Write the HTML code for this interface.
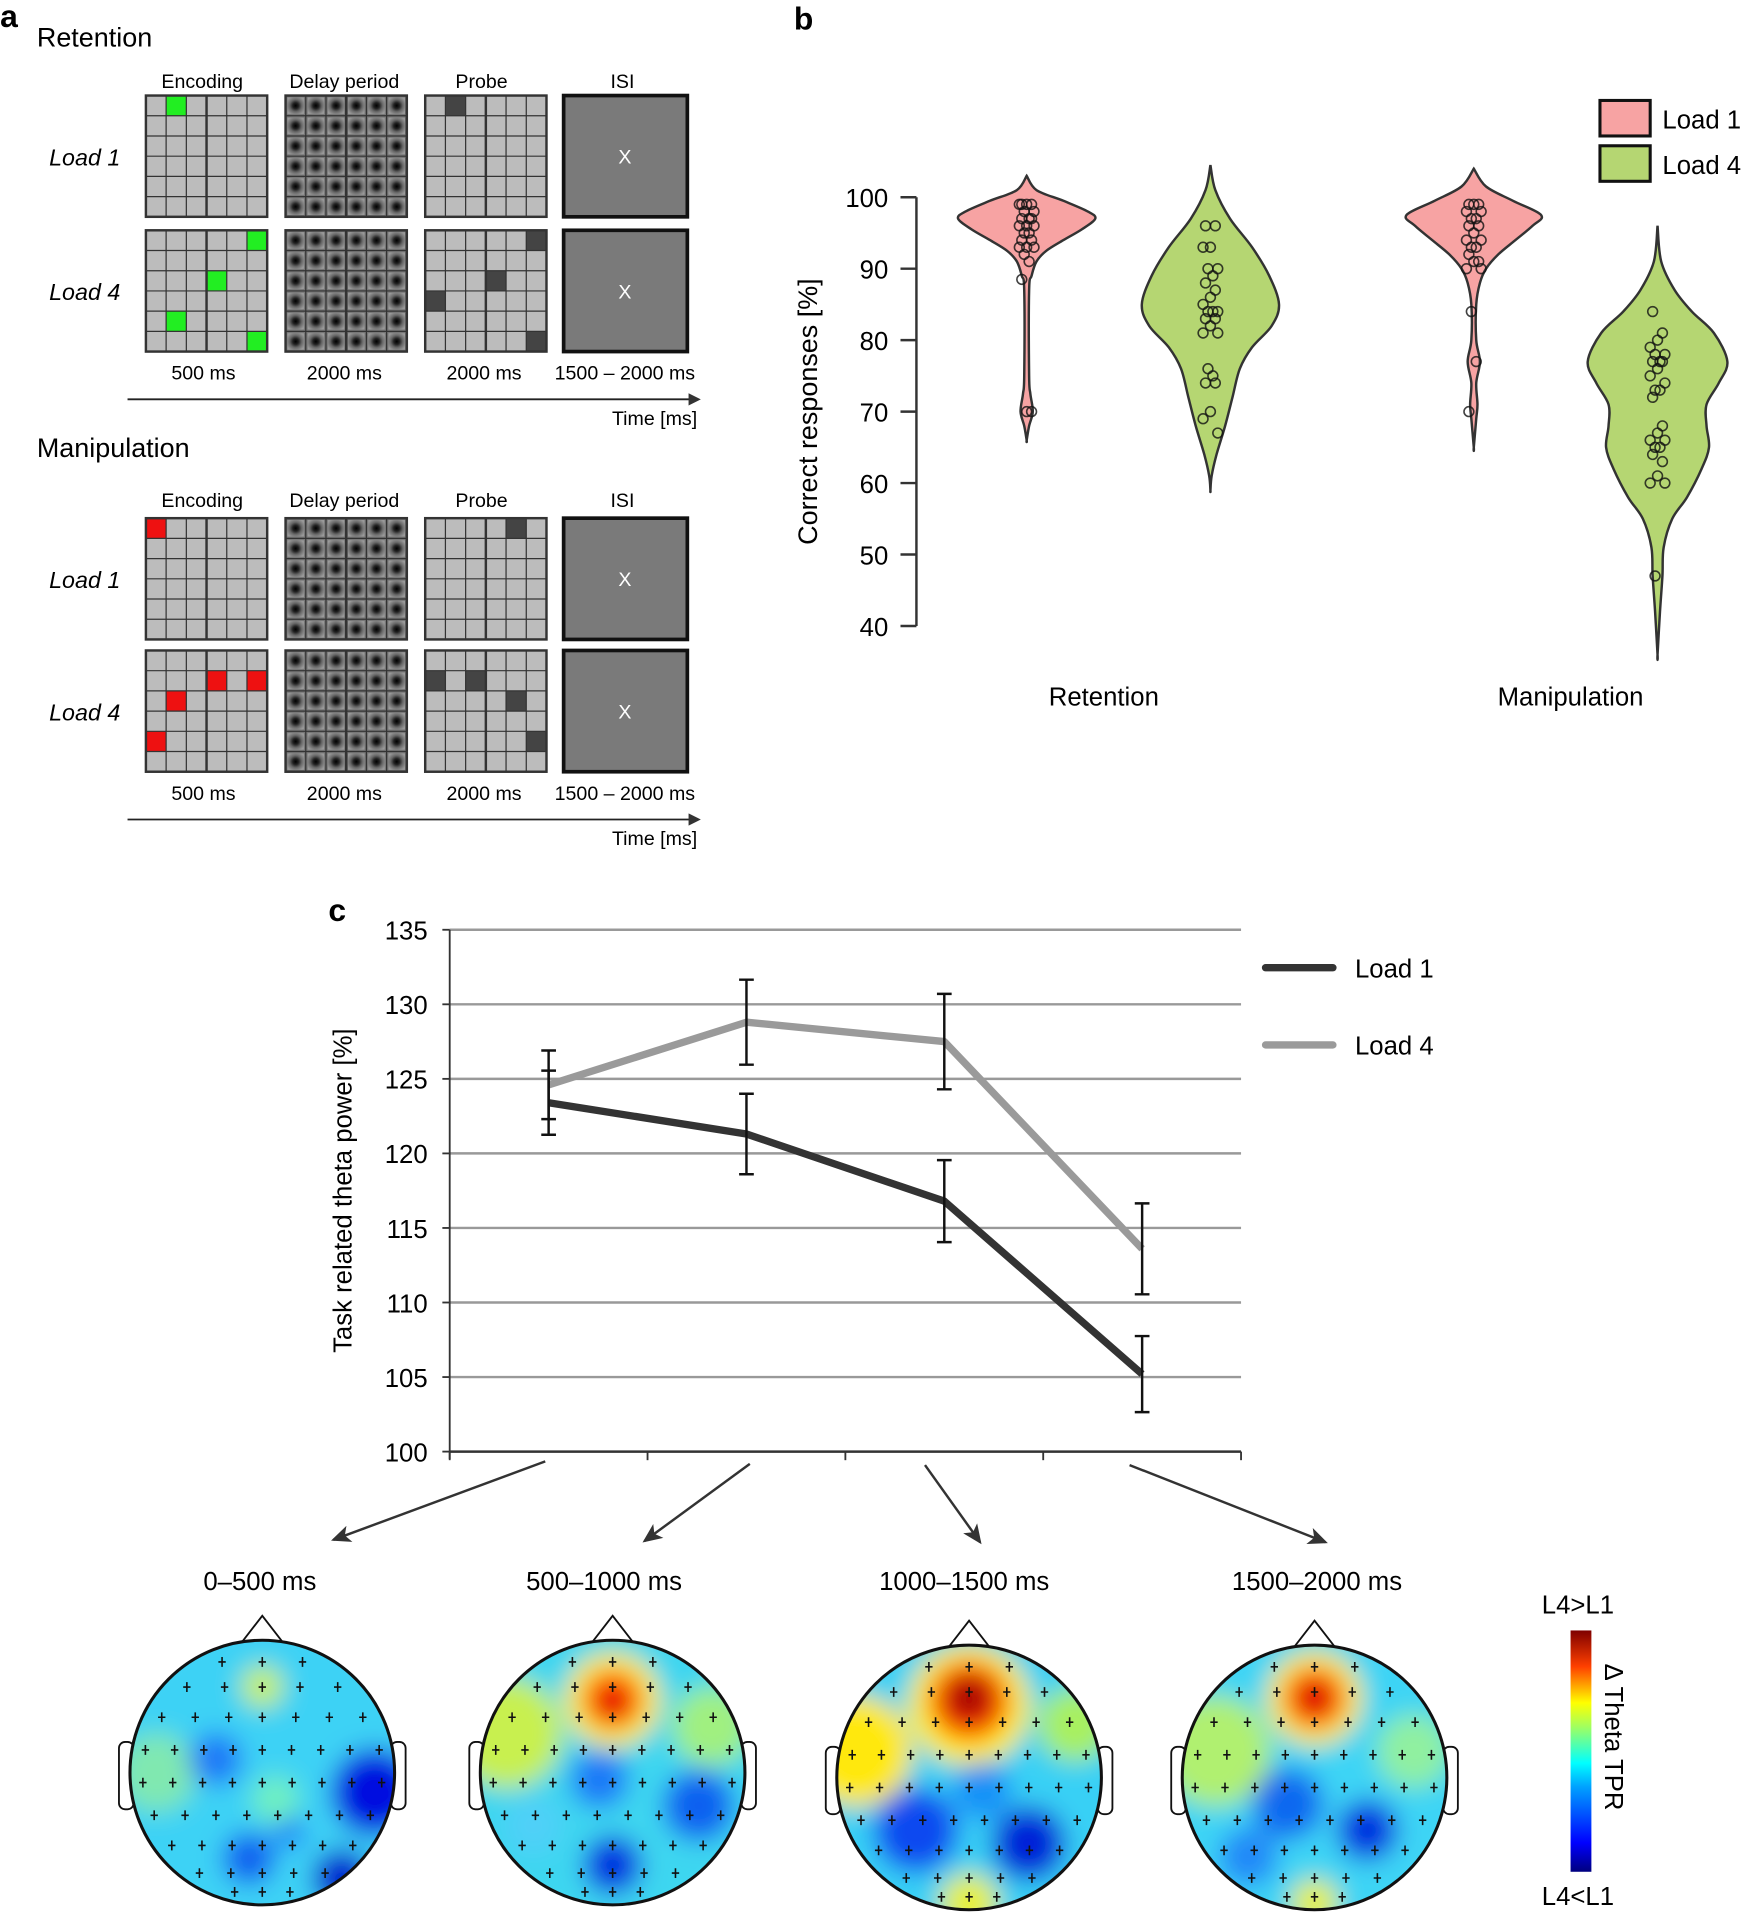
<!DOCTYPE html>
<html><head><meta charset="utf-8"><style>
html,body{margin:0;padding:0;background:#fff;}
svg{display:block;font-family:"Liberation Sans",Arial,sans-serif;}
</style></head><body>
<svg id="fig" width="1752" height="1922" viewBox="0 0 1430 1569" xmlns="http://www.w3.org/2000/svg">
<defs>
<radialGradient id="delayCell" cx="50%" cy="50%" r="60%">
<stop offset="0" stop-color="#000"/><stop offset="0.3" stop-color="#222"/><stop offset="0.6" stop-color="#666"/><stop offset="1" stop-color="#9a9a9a"/>
</radialGradient>
<linearGradient id="jet" x1="0" y1="1" x2="0" y2="0">
<stop offset="0" stop-color="#00007f"/><stop offset="0.12" stop-color="#0000ff"/><stop offset="0.35" stop-color="#00a0ff"/><stop offset="0.45" stop-color="#00ffff"/><stop offset="0.6" stop-color="#a0ff60"/><stop offset="0.7" stop-color="#ffff00"/><stop offset="0.85" stop-color="#ff4000"/><stop offset="1" stop-color="#7f0000"/>
</linearGradient>
<filter id="blur" x="-50%" y="-50%" width="200%" height="200%"><feGaussianBlur stdDeviation="10"/></filter>
<marker id="arr" markerWidth="10" markerHeight="10" refX="8" refY="5" orient="auto" markerUnits="userSpaceOnUse"><path d="M0,0 L10,5 L0,10 z" fill="#333"/></marker>
<marker id="arr2" markerWidth="16" markerHeight="14" refX="14" refY="7" orient="auto" markerUnits="userSpaceOnUse"><path d="M0,0 L16,7 L0,14 L4,7 z" fill="#333"/></marker>
</defs>
<g id="pa"></g>
<g id="pb"></g>
<g id="pc"></g>
<g id="pd"></g>
</svg>
<script>
// ---------- Panel b data ----------
const violinCategories = ["Retention","Manipulation"];
const violinLegend = ["Load 1","Load 4"];
const bTicks = [40,50,60,70,80,90,100];
// violin density profiles: [value, half-width]
const profRetL1 = [[103,0],[101,8],[99.5,30],[98,50],[97,56],[95.5,45],[94,30],[92.5,16],[91,8],[89,4],[87,2],[75,2],[72.5,3],[70,5],[68,2],[66,0]];
const profRetL4 = [[104.5,0],[101,4],[97,16],[93,34],[89,48],[85,56],[82,50],[79,34],[76,24],[72,18],[68,12],[64,5],[61,1],[59,0]];
const profManL1 = [[104,0],[101.5,10],[99.5,32],[97.5,55],[96,48],[94,34],[92,20],[90,10],[88,5],[85,2],[80,2],[77,5],[74,2],[71,3],[69,2],[65,0]];
const profManL4 = [[96,0],[91,3],[87,14],[84,28],[81,46],[77,57],[74,50],[71,40],[68,40],[65,42],[62,36],[58,24],[55,12],[51,5],[47,4],[42,2],[36,0]];
const ptsRetL1 = [99,99,99,99,98,98,97,97,97,96,96,96,95,95,94,94,93,93,93,92,91,88.5,70,70];
const ptsRetL4 = [96,96,93,93,90,90,89,88,87,86,85,84,84,84,83,83,82,81,81,76,75,74,74,70,69,67];
const ptsManL1 = [99,99,99,98,98,97,97,96,96,95,94,94,93,93,92,91,91,90,90,84,77,70];
const ptsManL4 = [84,81,80,79,78,78,77,77,77,76,75,74,73,73,72,68,67,66,66,65,65,64,63,61,60,60,47];
// ---------- Panel c data ----------
const cTicks = [100,105,110,115,120,125,130,135];
const cWindows = ["0–500 ms","500–1000 ms","1000–1500 ms","1500–2000 ms"];
const load1Vals = [123.4,121.3,116.8,105.2];
const load1Err = [2.15,2.7,2.75,2.55];
const load4Vals = [124.6,128.8,127.5,113.6];
const load4Err = [2.3,2.85,3.2,3.05];

const NS="http://www.w3.org/2000/svg";
function el(tag,attrs,parent,text){const e=document.createElementNS(NS,tag);for(const k in attrs)e.setAttribute(k,attrs[k]);if(text!==undefined)e.textContent=text;parent.appendChild(e);return e;}

// ================= Panel a =================
const pa=document.getElementById('pa');
let t;
t=el('text',{x:0,y:22,'font-size':26,'font-weight':'bold'},pa,'a');


function grid(x,y,type,cells,color){
  const g=el('g',{},pa);
  
  
  const s=99/6;
  el('rect',{x:x,y:y,width:99,height:99,fill:type==='delay'?'#777':'#bcbcbc'},g);
  for(let r=0;r<6;r++)for(let c=0;c<6;c++){
    const cx=x+c*s, cy=y+r*s;
    if(type==='delay'){el('rect',{x:cx+1.5,y:cy+1.5,width:s-3,height:s-3,fill:'url(#delayCell)'},g);}
    else{
      const hit=cells.some(p=>p[0]===c&&p[1]===r);
      if(hit)el('rect',{x:cx,y:cy,width:s,height:s,fill:color},g);
    }
  }
  for(let i=1;i<6;i++){
    el('line',{x1:x+i*s,y1:y,x2:x+i*s,y2:y+99,stroke:'#333','stroke-width':i===3?2:1},g);
    el('line',{x1:x,y1:y+i*s,x2:x+99,y2:y+i*s,stroke:'#333','stroke-width':1},g);
  }
  el('rect',{x:x,y:y,width:99,height:99,fill:'none',stroke:'#333','stroke-width':2},g);
}
function isi(x,y,h){
  const g=el('g',{},pa);
  
  
  el('rect',{x:x,y:y,width:101,height:h,fill:'#7a7a7a',stroke:'#111','stroke-width':3},g);
  el('text',{x:x+50,y:y+h/2+6,'font-size':16,fill:'#fff','text-anchor':'middle'},g,'X');
}
function block(title,y0,hy,rows,color){
  t=el('text',{x:30,y:y0,'font-size':22},pa,title);
  
  
  [['Encoding',165],['Delay period',281],['Probe',393],['ISI',508]].forEach(h=>{
    t=el('text',{x:h[1],y:hy,'font-size':16,'text-anchor':'middle'},pa,h[0]);
    
    
  });
  rows.forEach((row,i)=>{
    const y=row.y;
    t=el('text',{x:40,y:y+57,'font-size':19,'font-style':'italic'},pa,row.label);
    
    
    grid(119,y,'enc',row.enc,color);
    grid(233,y,'delay',[]);
    grid(347,y,'probe',row.probe,'#444');
    isi(460,y,99);
  });
  const ly=rows[1].y+122;
  [['500 ms',166],['2000 ms',281],['2000 ms',395],['1500 – 2000 ms',510]].forEach(d=>{
    t=el('text',{x:d[1],y:ly,'font-size':16,'text-anchor':'middle'},pa,d[0]);
    
    
  });
  const ay=ly+16;
  t=el('line',{x1:104,y1:ay,x2:570,y2:ay,stroke:'#222','stroke-width':1.5,'marker-end':'url(#arr)'},pa);
  
  
  t=el('text',{x:569,y:ay+21,'font-size':16,'text-anchor':'end'},pa,'Time [ms]');
  
  
}
block('Retention',38,72,[
  {y:78,label:'Load 1',enc:[[1,0]],probe:[[1,0]]},
  {y:188,label:'Load 4',enc:[[5,0],[3,2],[1,4],[5,5]],probe:[[5,0],[3,2],[0,3],[5,5]]}
],'#22ee22');
block('Manipulation',373,414,[
  {y:423,label:'Load 1',enc:[[0,0]],probe:[[4,0]]},
  {y:531,label:'Load 4',enc:[[3,1],[5,1],[1,2],[0,4]],probe:[[0,1],[2,1],[4,2],[5,4]]}
],'#ee1111');

// ================= Panel b =================
const pb=document.getElementById('pb');
t=el('text',{x:648,y:24,'font-size':26,'font-weight':'bold'},pb,'b');


const bY=v=>161+(100-v)*(511-161)/60;
const bAxisX=748;
t=el('line',{x1:bAxisX,y1:bY(100),x2:bAxisX,y2:bY(40),stroke:'#333','stroke-width':2},pb);


bTicks.forEach(v=>{
  t=el('line',{x1:735,y1:bY(v),x2:bAxisX,y2:bY(v),stroke:'#333','stroke-width':2},pb);
  
  
  t=el('text',{x:725,y:bY(v)+8,'font-size':21,'text-anchor':'end'},pb,String(v));
  
  
});
t=el('text',{x:0,y:0,'font-size':22,'text-anchor':'middle',transform:'translate(667,336) rotate(-90)'},pb,'Correct responses [%]');


const catX=[901,1282];
violinCategories.forEach((c,i)=>{
  t=el('text',{x:catX[i],y:576,'font-size':21,'text-anchor':'middle'},pb,c);
  
  
});
function violin(cx,prof,pts,fill,name){
  const g=el('g',{},pb);
  
  
  const right=prof.map(p=>[cx+p[1],bY(p[0])]);
  const left=prof.slice().reverse().map(p=>[cx-p[1],bY(p[0])]);
  const all=right.concat(left);
  let d='M'+all[0][0]+','+all[0][1];
  for(let i=0;i<all.length-1;i++){
    const p0=all[Math.max(0,i-1)],p1=all[i],p2=all[i+1],p3=all[Math.min(all.length-1,i+2)];
    const c1=[p1[0]+(p2[0]-p0[0])/6,p1[1]+(p2[1]-p0[1])/6];
    const c2=[p2[0]-(p3[0]-p1[0])/6,p2[1]-(p3[1]-p1[1])/6];
    d+=' C'+c1[0]+','+c1[1]+' '+c2[0]+','+c2[1]+' '+p2[0]+','+p2[1];
  }
  el('path',{d:d+'Z',fill:fill,stroke:'#333','stroke-width':2},g);
  const jit=[-4,4,0,-6,6,-2,2];
  pts.forEach((v,i)=>{
    const c=el('circle',{cx:cx+jit[i%jit.length],cy:bY(v),r:4,fill:'none',stroke:'#111','stroke-width':1.3,'stroke-opacity':0.8},g);
    
    
  });
}
violin(838,profRetL1,ptsRetL1,'#f7a3a3','violin-retention-load1');
violin(988,profRetL4,ptsRetL4,'#b5d672','violin-retention-load4');
violin(1203,profManL1,ptsManL1,'#f7a3a3','violin-manipulation-load1');
violin(1353,profManL4,ptsManL4,'#b5d672','violin-manipulation-load4');
[['#f7a3a3',82],['#b5d672',119]].forEach((L,i)=>{
  const g=el('g',{},pb);
  
  
  el('rect',{x:1306,y:L[1],width:41,height:29,fill:L[0],stroke:'#111','stroke-width':2.5},g);
  el('text',{x:1357,y:L[1]+23,'font-size':21},g,violinLegend[i]);
});

// ================= Panel c =================
const pc=document.getElementById('pc');
t=el('text',{x:268,y:752,'font-size':26,'font-weight':'bold'},pc,'c');


const cY=v=>1185-(v-100)*(1185-759)/35;
const cX=i=>367+(i+0.5)*(1013-367)/4;
cTicks.forEach(v=>{
  if(v>100){t=el('line',{x1:367,y1:cY(v),x2:1013,y2:cY(v),stroke:'#999','stroke-width':2},pc);
  
  }
  t=el('line',{x1:361,y1:cY(v),x2:367,y2:cY(v),stroke:'#333','stroke-width':1.5},pc);
  
  
  t=el('text',{x:349,y:cY(v)+8,'font-size':21,'text-anchor':'end'},pc,String(v));
  
  
});
t=el('line',{x1:367,y1:759,x2:367,y2:1191,stroke:'#333','stroke-width':1.5},pc);


t=el('line',{x1:367,y1:cY(100),x2:1013,y2:cY(100),stroke:'#333','stroke-width':2},pc);


for(let i=0;i<=4;i++){
  t=el('line',{x1:367+i*(1013-367)/4,y1:1185,x2:367+i*(1013-367)/4,y2:1192,stroke:'#333','stroke-width':1.5},pc);
  
  
}
t=el('text',{x:0,y:0,'font-size':21,'text-anchor':'middle',transform:'translate(287,972) rotate(-90)'},pc,'Task related theta power [%]');


function series(vals,errs,color,name){
  const g=el('g',{},pc);
  
  
  el('polyline',{points:vals.map((v,i)=>cX(i)+','+cY(v)).join(' '),fill:'none',stroke:color,'stroke-width':6,'stroke-linejoin':'round'},g);
  vals.forEach((v,i)=>{
    const e=el('path',{d:'M'+(cX(i)-6)+','+cY(v+errs[i])+' h12 M'+cX(i)+','+cY(v+errs[i])+' V'+cY(v-errs[i])+' M'+(cX(i)-6)+','+cY(v-errs[i])+' h12',stroke:'#111','stroke-width':2,fill:'none'},g);
    
    
  });
}
series(load4Vals,load4Err,'#9a9a9a','line-load4');
series(load1Vals,load1Err,'#333333','line-load1');
[['#333',790,'Load 1'],['#9a9a9a',853,'Load 4']].forEach(L=>{
  const g=el('g',{},pc);
  
  
  el('line',{x1:1033,y1:L[1],x2:1088,y2:L[1],stroke:L[0],'stroke-width':6,'stroke-linecap':'round'},g);
  el('text',{x:1106,y:L[1]+8,'font-size':21},g,L[2]);
});
[[445,1193,272,1257],[612,1195,526,1258],[755,1196,800,1259],[922,1196,1082,1259]].forEach(a=>{
  t=el('line',{x1:a[0],y1:a[1],x2:a[2],y2:a[3],stroke:'#333','stroke-width':2,'marker-end':'url(#arr2)'},pc);
  
  
});

// ================= Topomaps =================
const pd=document.getElementById('pd');
const heads=[[214,1447],[500,1447],[791,1451],[1073,1451]];
const titleX=[212,493,787,1075];
const blobs=[
 [[0,0,1.2,'#3cd2f5'],[-0.8,0.0,0.3,'#80e8b0'],[0,-0.65,0.16,'#c8f060'],[-0.35,-0.1,0.2,'#1a78f8'],[0.85,0.15,0.33,'#0010e0'],[0.6,0.8,0.22,'#0020d0'],[-0.1,0.65,0.2,'#1060f0'],[0.2,0.45,0.13,'#1a88f8'],[0.1,0.2,0.18,'#70f0c0']],
 [[0,0,1.2,'#3cd6f0'],[-0.8,-0.3,0.42,'#c8f050'],[0.75,-0.35,0.3,'#a0f080'],[0,-0.55,0.36,'#fff020'],[0,-0.55,0.22,'#ff3000'],[0,-0.52,0.12,'#e01000'],[-0.1,0.05,0.22,'#1a78f8'],[0.65,0.25,0.27,'#1060f0'],[0,0.7,0.22,'#0030e0'],[-0.6,0.4,0.22,'#50d0f8']],
 [[0,0,1.2,'#38d0f5'],[-0.85,-0.2,0.42,'#ffe810'],[0.8,-0.4,0.28,'#a8f060'],[0,-0.55,0.46,'#fff010'],[0,-0.58,0.3,'#ff3000'],[0,-0.6,0.17,'#a00000'],[-0.4,0.4,0.32,'#0a48f0'],[0.45,0.5,0.28,'#0020d8'],[0.1,0.1,0.22,'#1890f8'],[0,0.95,0.22,'#e8f030']],
 [[0,0,1.2,'#3cd4f5'],[-0.75,-0.2,0.42,'#b0f070'],[0.75,-0.2,0.28,'#90f0a0'],[0,-0.6,0.36,'#fff020'],[0,-0.6,0.23,'#ff2800'],[0,-0.6,0.12,'#d01000'],[-0.2,0.2,0.27,'#1068f0'],[0.4,0.4,0.23,'#0030e0'],[-0.5,0.6,0.22,'#2088f8'],[0,0.95,0.18,'#e8f030']]
];
const rowsE=[[-0.88,3,0.32],[-0.68,5,0.6],[-0.44,7,0.8],[-0.18,9,0.93],[0.08,9,0.95],[0.34,8,0.86],[0.58,7,0.72],[0.8,5,0.5],[0.95,3,0.22]];
heads.forEach((h,hi)=>{
  const [cx,cy]=h, r=108;
  const g=el('g',{},pd);
  
  
  t=el('text',{x:titleX[hi],y:1298,'font-size':21,'text-anchor':'middle'},g,cWindows[hi]);
  
  
  el('path',{d:`M${cx-17},${cy-r+2} L${cx},${cy-r-20} L${cx+17},${cy-r+2}`,fill:'#fff',stroke:'#111','stroke-width':1.5},g);
  el('rect',{x:cx-r-9,y:cy-25,width:12,height:55,rx:5,fill:'#fff',stroke:'#111','stroke-width':1.5},g);
  el('rect',{x:cx+r-3,y:cy-25,width:12,height:55,rx:5,fill:'#fff',stroke:'#111','stroke-width':1.5},g);
  const cid='clip'+hi;
  const cp=el('clipPath',{id:cid},g);
  el('circle',{cx:cx,cy:cy,r:r},cp);
  const inner=el('g',{'clip-path':`url(#${cid})`},g);
  const bg=el('g',{filter:'url(#blur)'},inner);
  blobs[hi].forEach(b=>el('circle',{cx:cx+b[0]*r,cy:cy+b[1]*r,r:b[2]*r,fill:b[3]},bg));
  el('circle',{cx:cx,cy:cy,r:r,fill:'none',stroke:'#111','stroke-width':2.5},g);
  rowsE.forEach(row=>{
    for(let k=0;k<row[1];k++){
      const ex=cx+(row[1]===1?0:(-row[2]+2*row[2]*k/(row[1]-1)))*r*0.95;
      const ey=cy+row[0]*r*0.95;
      const m=el('path',{d:`M${ex-3},${ey} h6 M${ex},${ey-4} v8`,stroke:'#111','stroke-width':1.3},g);
      
      
    }
  });
});
t=el('rect',{x:1282,y:1331,width:17,height:197,fill:'url(#jet)'},pd);


t=el('text',{x:1288,y:1317,'font-size':21,'text-anchor':'middle'},pd,'L4>L1');


t=el('text',{x:1288,y:1555,'font-size':21,'text-anchor':'middle'},pd,'L4<L1');


t=el('text',{x:0,y:0,'font-size':21,'text-anchor':'middle',transform:'translate(1310,1418) rotate(90)'},pd,'Δ Theta TPR');


</script>
</body></html>
